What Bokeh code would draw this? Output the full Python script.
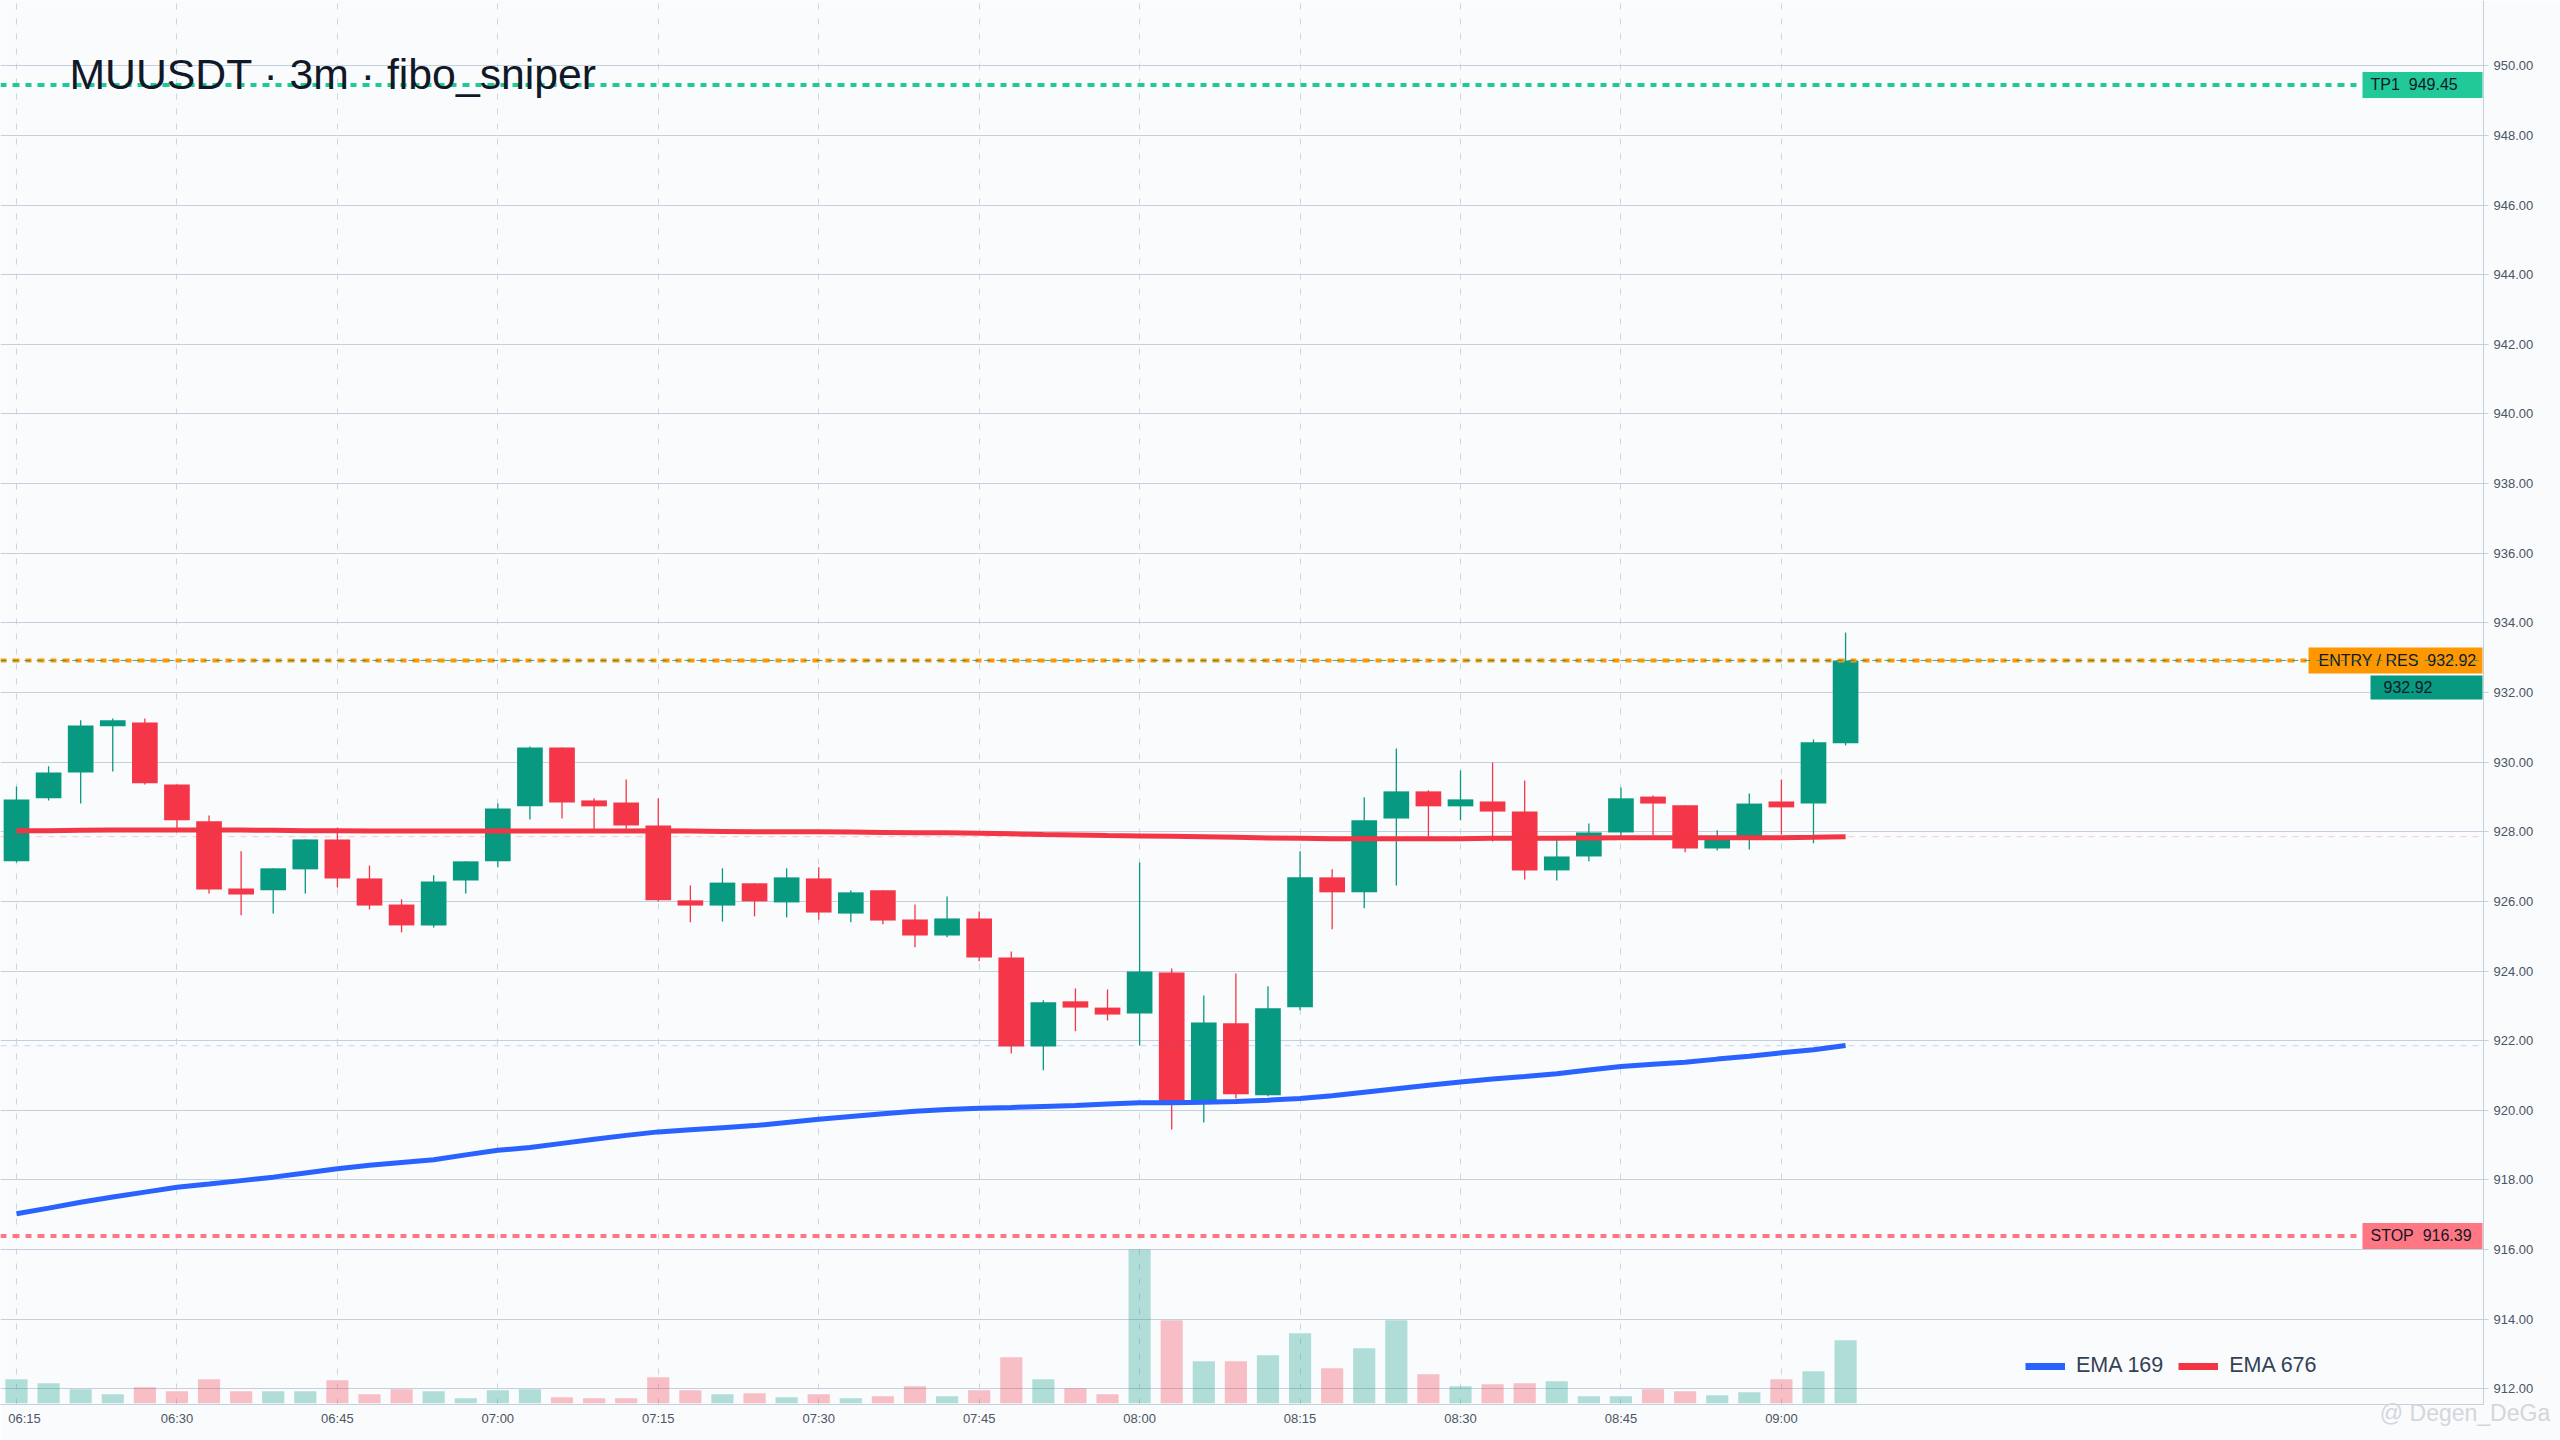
from bokeh.plotting import figure
from bokeh.models import (Range1d, LinearAxis, FixedTicker, PrintfTickFormatter, Label, Legend, LegendItem,
                          ColumnDataSource)
from bokeh.core.properties import value
from bokeh.embed import file_html
from bokeh.resources import INLINE

opens = [927.15,928.96,929.70,931.03,931.14,929.36,928.30,926.37,926.32,926.92,927.78,926.66,925.91,925.31,926.60,927.15,928.73,930.42,928.90,928.84,
         928.18,926.03,925.88,926.52,925.97,926.66,925.65,926.32,925.48,925.02,925.51,924.39,921.83,923.13,922.95,922.78,923.96,920.21,922.50,920.43,
         922.96,926.69,926.26,928.38,929.16,928.73,928.87,928.58,926.89,927.29,927.98,929.01,928.76,927.52,927.80,928.87,928.81,930.54]
highs = [929.30,929.88,931.20,931.25,931.25,929.36,928.47,927.44,926.95,927.78,928.12,927.03,926.06,926.75,927.15,928.81,930.45,930.42,928.96,929.50,
         928.96,926.46,926.95,926.52,926.95,926.98,926.32,926.32,925.91,926.14,925.71,924.56,923.16,923.50,923.47,927.12,924.07,923.30,923.93,923.56,
         927.44,926.92,928.99,930.39,929.19,929.76,929.99,929.47,927.80,928.24,929.27,929.04,928.76,928.04,929.10,929.50,930.65,933.72]
lows = [927.12,928.90,928.81,929.73,929.36,928.09,926.23,925.60,925.65,926.23,926.40,925.77,925.11,925.25,926.23,926.98,928.35,928.38,928.09,928.09,
        926.00,925.40,925.42,925.57,925.54,925.47,925.40,925.34,924.68,924.97,924.28,921.63,921.15,922.27,922.58,921.86,919.45,919.65,920.34,920.40,
        922.87,925.20,925.80,926.46,927.85,928.33,927.72,926.63,926.60,927.15,927.89,927.89,927.41,927.46,927.49,927.92,927.67,930.48]
closes = [928.93,929.70,931.05,931.20,929.39,928.33,926.34,926.20,926.95,927.78,926.66,925.88,925.31,926.57,927.15,928.67,930.42,928.84,928.73,928.18,
          926.03,925.88,926.54,926.00,926.69,925.68,926.26,925.45,925.02,925.51,924.39,921.83,923.10,922.95,922.75,923.99,920.21,922.52,920.46,922.93,
          926.69,926.26,928.33,929.16,928.73,928.93,928.58,926.89,927.29,927.98,928.96,928.81,927.52,927.87,928.81,928.70,930.57,932.92]
volumes = [72,60,42,27,48,36,72,36,36,36,69,27,42,36,15,39,42,18,15,15,78,39,27,30,18,27,15,21,51,21,39,138,72,45,27,461,249,126,126,144,210,105,165,249,87,51,57,60,66,21,21,42,36,24,33,72,96,189]
ema169 = [917.03,917.19,917.36,917.51,917.65,917.79,917.88,917.98,918.08,918.20,918.32,918.42,918.50,918.58,918.72,918.85,918.93,919.05,919.17,919.28,
          919.38,919.44,919.50,919.56,919.65,919.74,919.82,919.90,919.97,920.02,920.06,920.08,920.11,920.14,920.18,920.22,920.22,920.23,920.25,920.29,
          920.34,920.42,920.52,920.62,920.72,920.81,920.90,920.97,921.05,921.16,921.26,921.32,921.38,921.47,921.55,921.65,921.74,921.86]
ema676 = [928.03,928.03,928.04,928.05,928.05,928.05,928.05,928.05,928.04,928.03,928.03,928.02,928.02,928.02,928.02,928.02,928.02,928.02,928.02,928.02,
          928.03,928.02,928.01,928.00,928.00,928.00,927.99,927.98,927.97,927.97,927.96,927.94,927.92,927.91,927.89,927.88,927.87,927.86,927.84,927.82,
          927.81,927.80,927.80,927.80,927.80,927.80,927.81,927.81,927.81,927.82,927.83,927.83,927.83,927.83,927.83,927.83,927.84,927.86]
time_labels = ["06:15","06:30","06:45","07:00","07:15","07:30","07:45","08:00","08:15","08:30","08:45","09:00"]
price_ticks = [912,914,916,918,920,922,924,926,928,930,932,934,936,938,940,942,944,946,948,950]
tp_price = 949.45
entry_price = 932.92
stop_price = 916.39
last_price = 932.92
title_text = "MUUSDT · 3m · fibo_sniper"
watermark_text = "@ Degen_DeGa"

BG, GRID, GRIDV = "#f9fbfd", "#c5d0de", "#cdd5e1"
UP, DOWN = "#089981", "#f43648"
BLUE, RED = "#2962ff", "#f23645"
TP_C, EN_C, ST_C = "#20c997", "#ff9800", "#ff7782"
INK, AXT = "#111827", "#4b5563"
FONT = "Liberation Sans"

W, H, FR, FB = 2560, 1440, 2483, 1404
x0, x1, y0, y1 = -0.4986, 76.88, 911.55, 951.875
px2x = lambda px: x0 + px / FR * (x1 - x0)
px2y = lambda py: y1 - py / FB * (y1 - y0)
n = len(opens)
xs = list(range(n))

p = figure(width=W, height=H, output_backend="svg", toolbar_location=None, x_range=Range1d(x0, x1),
           y_range=Range1d(y0, y1), y_axis_location="right", min_border_left=0, min_border_right=W - FR,
           min_border_top=0, min_border_bottom=H - FB, background_fill_color=BG, border_fill_color=BG,
           outline_line_color=None)
p.extra_y_ranges = {"vol": Range1d(-3.9, FB * 3 - 3.9), "off": Range1d(0, 1)}

yax, xax = p.yaxis[0], p.xaxis[0]
yax.ticker = FixedTicker(ticks=price_ticks)
yax.formatter = PrintfTickFormatter(format="%.2f")
yax.axis_line_color = GRID
yax.major_tick_line_color = GRID
yax.major_tick_in, yax.major_tick_out = 0, 5
yax.minor_tick_line_color = None
yax.major_label_text_font = FONT
yax.major_label_text_font_size = "13px"
yax.major_label_text_color = AXT
yax.major_label_standoff = 5

tick_pos = [i * 5 for i in range(len(time_labels))]
label_pos = [px2x(24)] + tick_pos[1:]  # the first label sits clear of the frame edge
xax.ticker = FixedTicker(ticks=label_pos)
xax.major_label_overrides = {t: l for t, l in zip(label_pos, time_labels)}
xax.axis_line_color = GRID
xax.major_tick_line_color = None
xax.minor_tick_line_color = None
xax.major_label_text_font = FONT
xax.major_label_text_font_size = "13px"
xax.major_label_text_color = AXT
xax.major_label_standoff = 0

# watermark: axis labels are the only text that may leave the plot frame
wm_pos = px2x(2464.5)
wm_axis = LinearAxis(ticker=FixedTicker(ticks=[wm_pos]), major_label_overrides={wm_pos: watermark_text},
                     axis_line_color=None, major_tick_line_color=None, minor_tick_line_color=None,
                     major_label_text_font=FONT, major_label_text_font_size="23px",
                     major_label_text_color="#d3d6dc", major_label_standoff=-35)
p.add_layout(wm_axis, "below")

p.ygrid[0].grid_line_color = GRID
p.ygrid[0].grid_line_width = 1
p.xgrid[0].ticker = FixedTicker(ticks=tick_pos)
p.xgrid[0].grid_line_color = GRIDV
p.xgrid[0].grid_line_width = 1
p.xgrid[0].grid_line_dash = "6 9"

is_up = [c >= o for o, c in zip(opens, closes)]
cols = [UP if u else DOWN for u in is_up]
vol_cols = ["#089981" if u else "#f23645" for u in is_up]
src = ColumnDataSource(dict(x=xs, o=opens, h=highs, l=lows, c=closes, v=volumes, col=cols, vc=vol_cols,
                            top=[max(a, b) for a, b in zip(opens, closes)], bot=[min(a, b) for a, b in zip(opens, closes)]))
p.vbar(x="x", top="v", bottom=0, width=0.69, fill_color="vc", fill_alpha=0.3, line_color=None, source=src, y_range_name="vol")
p.segment(x0="x", x1="x", y0="h", y1="l", line_color="col", line_width=1.3, source=src)
p.vbar(x="x", top="top", bottom="bot", width=0.8, fill_color="col", line_color=None, source=src)

p.line([x0, px2x(2478)], [ema676[-1]] * 2, line_color=RED, line_alpha=0.2, line_width=1.3, line_dash="6 6")
p.line([x0, px2x(2478)], [ema169[-1]] * 2, line_color=BLUE, line_alpha=0.2, line_width=1.3, line_dash="6 6")
p.line(xs, ema169, line_color=BLUE, line_width=5)
p.line(xs, ema676, line_color=RED, line_width=5)

LEVEL_DASH = "6 6 7 6"
p.line([x0, px2x(2362)], [tp_price] * 2, line_color=TP_C, line_width=4, line_dash=LEVEL_DASH)
p.line([x0, px2x(2308)], [entry_price] * 2, line_color=EN_C, line_width=4, line_dash=LEVEL_DASH)
p.line([x0, px2x(2362)], [stop_price] * 2, line_color=ST_C, line_width=4, line_dash=LEVEL_DASH)


def tag(left, right, price, color, text, text_left, dy=0):
    yc = px2y((y1 - price) / (y1 - y0) * FB + dy)
    p.rect(x=[px2x((left + right) / 2)], y=[yc], width=[right - left], height=[26 if dy == 0 else 24],
           width_units="screen", height_units="screen", fill_color=color, line_color=None)
    p.text(x=[px2x(text_left)], y=[yc], text=[text], text_font=value(FONT), text_font_size=value("16px"),
           text_color=INK, text_align="left", text_baseline="middle")


tag(2362, 2482, tp_price, TP_C, f"TP1\u00a0\u00a0{tp_price:.2f}", 2370)
tag(2308, 2482, entry_price, EN_C, f"ENTRY / RES\u00a0\u00a0{entry_price:.2f}", 2318)
tag(2370, 2482, last_price, UP, f"{last_price:.2f}", 2383, dy=27)
tag(2362, 2482, stop_price, ST_C, f"STOP\u00a0\u00a0{stop_price:.2f}", 2370)
p.line([x0, px2x(2478)], [entry_price] * 2, line_color=UP, line_width=1, line_dash="6 6", line_alpha=0.8)

p.add_layout(Label(x=69, y=73, x_units="canvas", y_units="canvas", text=title_text, text_font=FONT,
                   text_font_size="42.75px", text_color=INK, text_baseline="alphabetic"))

r_b = p.line(xs, ema169, line_color=BLUE, line_width=7, y_range_name="off")
r_r = p.line(xs, ema676, line_color=RED, line_width=7, y_range_name="off")
legend = Legend(items=[LegendItem(label="EMA 169", renderers=[r_b]), LegendItem(label="EMA 676", renderers=[r_r])],
                orientation="horizontal", location=(2025, 26), padding=0, margin=0, spacing=15,
                background_fill_alpha=0, border_line_color=None, glyph_width=40, glyph_height=24, label_height=24,
                label_standoff=11, label_text_font=FONT, label_text_font_size="21.5px", label_text_color="#334155")
p.add_layout(legend)

open("out.html", "w").write(file_html(p, INLINE))
